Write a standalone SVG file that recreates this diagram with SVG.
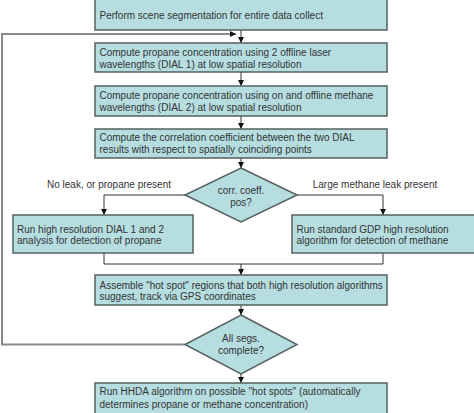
<svg xmlns="http://www.w3.org/2000/svg" width="474" height="413" viewBox="0 0 474 413">
<defs>
<marker id="ah" markerUnits="userSpaceOnUse" markerWidth="7" markerHeight="7" refX="6" refY="3.5" orient="auto">
<path d="M0,0.5 L6,3.5 L0,6.5 Z" fill="#111"/>
</marker>
<style>
.box{fill:#b6dee1;stroke:#55605f;stroke-width:1.5}
.t{font-family:"Liberation Sans",Arial,sans-serif;font-size:10px;fill:#333}
.c{fill:none;stroke:#333;stroke-width:1}
.loop{fill:none;stroke:#8a8a8a;stroke-width:2}
</style>
</defs>
<rect width="474" height="413" fill="#fff"/>
<g id="connectors">
<path class="loop" d="M185,344.5 H2 V34 H236" marker-end="url(#ah)"/>
<path class="c" d="M241,30 V43" marker-end="url(#ah)"/>
<path class="c" d="M241,72 V86" marker-end="url(#ah)"/>
<path class="c" d="M241,116 V129" marker-end="url(#ah)"/>
<path class="c" d="M241,158 V168" marker-end="url(#ah)"/>
<path class="c" d="M185,195 H104 V215" marker-end="url(#ah)"/>
<path class="c" d="M297,195 H383 V215" marker-end="url(#ah)"/>
<path class="c" d="M104,253 V264 H383 V253"/>
<path class="c" d="M241,264 V275" marker-end="url(#ah)"/>
<path class="c" d="M241,305 V315" marker-end="url(#ah)"/>
<path class="c" d="M241,374 V383" marker-end="url(#ah)"/>
<text class="t" x="109" y="187.5" text-anchor="middle">No leak, or propane present</text>
<text class="t" x="375" y="187.5" text-anchor="middle">Large methane leak present</text>
</g>
<g id="n1"><rect class="box" x="95" y="-2" width="292" height="32"/><text class="t" x="99.5" y="19">Perform scene segmentation for entire data collect</text></g>
<g id="n2"><rect class="box" x="95" y="43" width="292" height="29"/><text class="t" x="99.5" y="56">Compute propane concentration using 2 offline laser</text><text class="t" x="99.5" y="67.5">wavelengths (DIAL 1) at low spatial resolution</text></g>
<g id="n3"><rect class="box" x="95" y="86" width="292" height="30"/><text class="t" x="99.5" y="99">Compute propane concentration using on and offline methane</text><text class="t" x="99.5" y="111">wavelengths (DIAL 2) at low spatial resolution</text></g>
<g id="n4"><rect class="box" x="95" y="129" width="292" height="29"/><text class="t" x="99.5" y="141">Compute the correlation coefficient between the two DIAL</text><text class="t" x="99.5" y="153">results with respect to spatially coinciding points</text></g>
<g id="d1"><polygon class="box" points="241,168 297,195 241,222 185,195"/><text class="t" x="241" y="193.5" text-anchor="middle">corr. coeff.</text><text class="t" x="241" y="205.5" text-anchor="middle">pos?</text></g>
<g id="n5"><rect class="box" x="13" y="215" width="180" height="38"/><text class="t" x="17" y="232.5">Run high resolution DIAL 1 and 2</text><text class="t" x="17" y="244">analysis for detection of propane</text></g>
<g id="n6"><rect class="box" x="292" y="215" width="184" height="38"/><text class="t" x="296.5" y="232.5">Run standard GDP high resolution</text><text class="t" x="296.5" y="244">algorithm for detection of methane</text></g>
<g id="n7"><rect class="box" x="95" y="275" width="292" height="30"/><text class="t" x="99.5" y="288.5">Assemble "hot spot" regions that both high resolution algorithms</text><text class="t" x="99.5" y="300">suggest, track via GPS coordinates</text></g>
<g id="d2"><polygon class="box" points="241,315 297,344.5 241,374 185,344.5"/><text class="t" x="241" y="341.5" text-anchor="middle">All segs.</text><text class="t" x="241" y="354" text-anchor="middle">complete?</text></g>
<g id="n8"><rect class="box" x="95" y="383" width="292" height="35"/><text class="t" x="99.5" y="395">Run HHDA algorithm on possible "hot spots" (automatically</text><text class="t" x="99.5" y="407.5">determines propane or methane concentration)</text></g>
</svg>
